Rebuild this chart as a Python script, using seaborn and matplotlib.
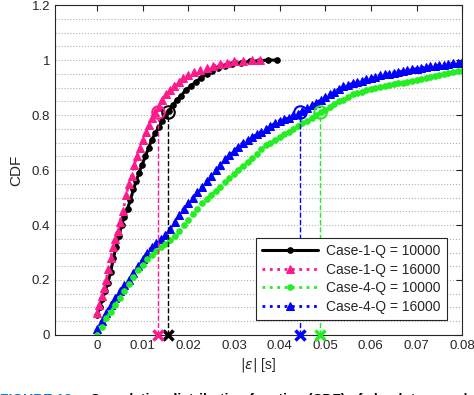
import numpy as np
import pandas as pd
import seaborn as sns
import matplotlib.pyplot as plt
from matplotlib.ticker import MultipleLocator

# Case-1-Q = 10000 (black)
eps_c1_q10 = [0.0000, 0.0006, 0.0012, 0.0018, 0.0024, 0.0030, 0.0036, 0.0042, 0.0048, 0.0054,
              0.0060, 0.0067, 0.0073, 0.0080, 0.0086, 0.0092, 0.0099, 0.0106, 0.0113, 0.0120,
              0.0128, 0.0135, 0.0143, 0.0150, 0.0158, 0.0166, 0.0175, 0.0184, 0.0194, 0.0205,
              0.0216, 0.0228, 0.0240, 0.0252, 0.0265, 0.0280, 0.0296, 0.0315, 0.0335, 0.0355,
              0.0375, 0.0395]
cdf_c1_q10 = [0.073, 0.10, 0.13, 0.16, 0.19, 0.23, 0.28, 0.32, 0.36, 0.40,
              0.43, 0.46, 0.49, 0.53, 0.56, 0.59, 0.62, 0.65, 0.68, 0.71,
              0.735, 0.755, 0.78, 0.80, 0.815, 0.835, 0.855, 0.87, 0.89, 0.905,
              0.92, 0.935, 0.95, 0.96, 0.97, 0.978, 0.985, 0.99, 0.995, 0.998,
              1.0, 1.0]

# Case-1-Q = 16000 (pink)
eps_c1_q16 = [0.0000, 0.0005, 0.0010, 0.0015, 0.0020, 0.0025, 0.0030, 0.0035, 0.0040, 0.0045,
              0.0050, 0.0057, 0.0064, 0.0070, 0.0076, 0.0082, 0.0088, 0.0094, 0.0100, 0.0107,
              0.0114, 0.0121, 0.0128, 0.0135, 0.0143, 0.0151, 0.0160, 0.0169, 0.0179, 0.0189,
              0.0200, 0.0212, 0.0225, 0.0240, 0.0255, 0.0270, 0.0285, 0.0300, 0.0320, 0.0340,
              0.0358]
cdf_c1_q16 = [0.08, 0.11, 0.14, 0.17, 0.20, 0.24, 0.28, 0.32, 0.35, 0.38,
              0.41, 0.45, 0.51, 0.55, 0.58, 0.62, 0.65, 0.68, 0.71, 0.74,
              0.765, 0.79, 0.81, 0.83, 0.855, 0.875, 0.89, 0.905, 0.92, 0.935,
              0.945, 0.955, 0.965, 0.97, 0.978, 0.985, 0.99, 0.995, 0.998, 1.0,
              1.0]

# Case-4 curves share the same error grid
eps_c4 = [0.000, 0.001, 0.002, 0.003, 0.004, 0.005, 0.006, 0.007, 0.008, 0.009,
          0.010, 0.011, 0.012, 0.013, 0.014, 0.015, 0.016, 0.017, 0.018, 0.019,
          0.020, 0.021, 0.022, 0.023, 0.024, 0.025, 0.026, 0.027, 0.028, 0.029,
          0.030, 0.031, 0.032, 0.033, 0.034, 0.035, 0.036, 0.037, 0.038, 0.039,
          0.040, 0.041, 0.042, 0.043, 0.044, 0.045, 0.046, 0.047, 0.048, 0.049,
          0.050, 0.051, 0.052, 0.053, 0.054, 0.055, 0.056, 0.057, 0.058, 0.059,
          0.060, 0.061, 0.062, 0.063, 0.064, 0.065, 0.066, 0.067, 0.068, 0.069,
          0.070, 0.071, 0.072, 0.073, 0.074, 0.075, 0.076, 0.077, 0.078, 0.079,
          0.080]
cdf_c4_q10 = [0.00, 0.03, 0.06, 0.085, 0.11, 0.135, 0.16, 0.185, 0.21, 0.235,
              0.255, 0.275, 0.29, 0.305, 0.32, 0.33, 0.345, 0.36, 0.38, 0.40,
              0.42, 0.44, 0.46, 0.48, 0.495, 0.51, 0.525, 0.54, 0.555, 0.57,
              0.585, 0.60, 0.615, 0.63, 0.645, 0.66, 0.675, 0.69, 0.70, 0.71,
              0.72, 0.73, 0.74, 0.75, 0.76, 0.77, 0.78, 0.79, 0.80, 0.81,
              0.82, 0.83, 0.84, 0.85, 0.855, 0.865, 0.875, 0.88, 0.885, 0.89,
              0.895, 0.90, 0.903, 0.906, 0.909, 0.912, 0.915, 0.918, 0.921, 0.924,
              0.927, 0.93, 0.934, 0.938, 0.942, 0.946, 0.95, 0.953, 0.956, 0.959,
              0.962]
cdf_c4_q16 = [0.02, 0.05, 0.08, 0.11, 0.135, 0.16, 0.18, 0.20, 0.225, 0.25,
              0.275, 0.30, 0.32, 0.335, 0.35, 0.365, 0.385, 0.41, 0.435, 0.46,
              0.48, 0.50, 0.52, 0.54, 0.56, 0.58, 0.60, 0.62, 0.64, 0.655,
              0.67, 0.685, 0.70, 0.71, 0.72, 0.73, 0.74, 0.75, 0.76, 0.77,
              0.78, 0.785, 0.79, 0.80, 0.805, 0.815, 0.825, 0.835, 0.845, 0.855,
              0.865, 0.875, 0.885, 0.895, 0.905, 0.91, 0.915, 0.92, 0.925, 0.93,
              0.935, 0.94, 0.945, 0.948, 0.951, 0.954, 0.957, 0.96, 0.963, 0.966,
              0.969, 0.972, 0.975, 0.977, 0.979, 0.981, 0.984, 0.986, 0.988, 0.99,
              0.992]

labels = ['Case-1-Q = 10000', 'Case-1-Q = 16000', 'Case-4-Q = 10000', 'Case-4-Q = 16000']
# error at CDF = 0.8 for each case
eps_at_80 = [0.0155, 0.0133, 0.0488, 0.0445]
cdf_mark = 0.8

colors = ['black', '#ff1a8c', '#22ee22', '#0000ff']
styles = ['-', ':', ':', ':']
markers = ['o', '^', 'o', '^']
msizes = [4, 6, 4, 6]

sns.set_style('white')
plt.rcParams['font.family'] = ['Liberation Sans', 'DejaVu Sans']
plt.rcParams['mathtext.fontset'] = 'dejavusans'

fig = plt.figure(figsize=(4.74, 3.95), dpi=100)
ax = fig.add_axes([0.116, 0.152, 0.859, 0.835])

series = [(eps_c1_q10, cdf_c1_q10), (eps_c1_q16, cdf_c1_q16),
          (eps_c4, cdf_c4_q10), (eps_c4, cdf_c4_q16)]
# draw case-4 first, then case-1 on top
for i in [3, 2, 0, 1]:
    df = pd.DataFrame({'eps': series[i][0], 'cdf': series[i][1]})
    sns.lineplot(data=df, x='eps', y='cdf', ax=ax, color=colors[i], linestyle=styles[i],
                 linewidth=2.2 if i == 0 else 2.0, marker=markers[i], markersize=msizes[i],
                 markeredgecolor=colors[i], sort=False, estimator=None, label=labels[i])

# 80% markers, dashed drop lines and crosses on the x axis
for i in range(4):
    ax.plot([eps_at_80[i], eps_at_80[i]], [0, cdf_mark], linestyle='--', color=colors[i], linewidth=1.0)
    ax.plot(eps_at_80[i], cdf_mark + 0.01, marker='o', markersize=9, markerfacecolor='none',
            markeredgecolor=colors[i], markeredgewidth=1.5)
    ax.plot(eps_at_80[i], 0, marker='x', markersize=7, markeredgewidth=2.5, color=colors[i],
            clip_on=False, zorder=10)

ax.set_xlim(-0.0092, 0.08)
ax.set_ylim(0, 1.2)
ax.set_xticks([0, 0.01, 0.02, 0.03, 0.04, 0.05, 0.06, 0.07, 0.08])
ax.set_xticklabels(['0', '0.01', '0.02', '0.03', '0.04', '0.05', '0.06', '0.07', '0.08'])
ax.set_yticks([0, 0.2, 0.4, 0.6, 0.8, 1.0, 1.2])
ax.set_yticklabels(['0', '0.2', '0.4', '0.6', '0.8', '1', '1.2'])
ax.yaxis.set_minor_locator(MultipleLocator(0.05))
ax.grid(axis='y', which='both', linestyle=':', color='#b0b0b0', linewidth=0.8)
ax.tick_params(direction='in', top=True, right=True, length=4, labelsize=9.5,
               colors='#262626', width=0.8)
ax.tick_params(which='minor', length=0)
for s in ax.spines.values():
    s.set_color('#262626')
    s.set_linewidth(0.8)

ax.set_xlabel(r'$|\epsilon|$ [s]', fontsize=10, color='#262626', labelpad=3)
ax.set_ylabel('CDF', fontsize=11, color='#262626', labelpad=6)

handles, labs = ax.get_legend_handles_labels()
order = [labs.index(l) for l in labels]
leg = ax.legend([handles[k] for k in order], labels, loc='lower right',
                bbox_to_anchor=(0.963, 0.045), borderaxespad=0, fontsize=10,
                handlelength=4.0, frameon=True, fancybox=False, borderpad=0.45,
                labelspacing=0.33, handletextpad=0.6)
leg.get_frame().set_edgecolor('#262626')
leg.get_frame().set_linewidth(0.8)
leg.get_frame().set_alpha(1)

# caption cut off at the bottom edge
fig.text(0.0, -0.012, 'FIGURE 13.', color='#1f6fb4', fontsize=10, fontweight='bold', va='center')
fig.text(0.19, -0.012, 'Cumulative distribution function (CDF) of absolute error |\u03b5| for',
         color='black', fontsize=10, fontweight='bold', va='center')

fig.savefig('out.png', dpi=100)
